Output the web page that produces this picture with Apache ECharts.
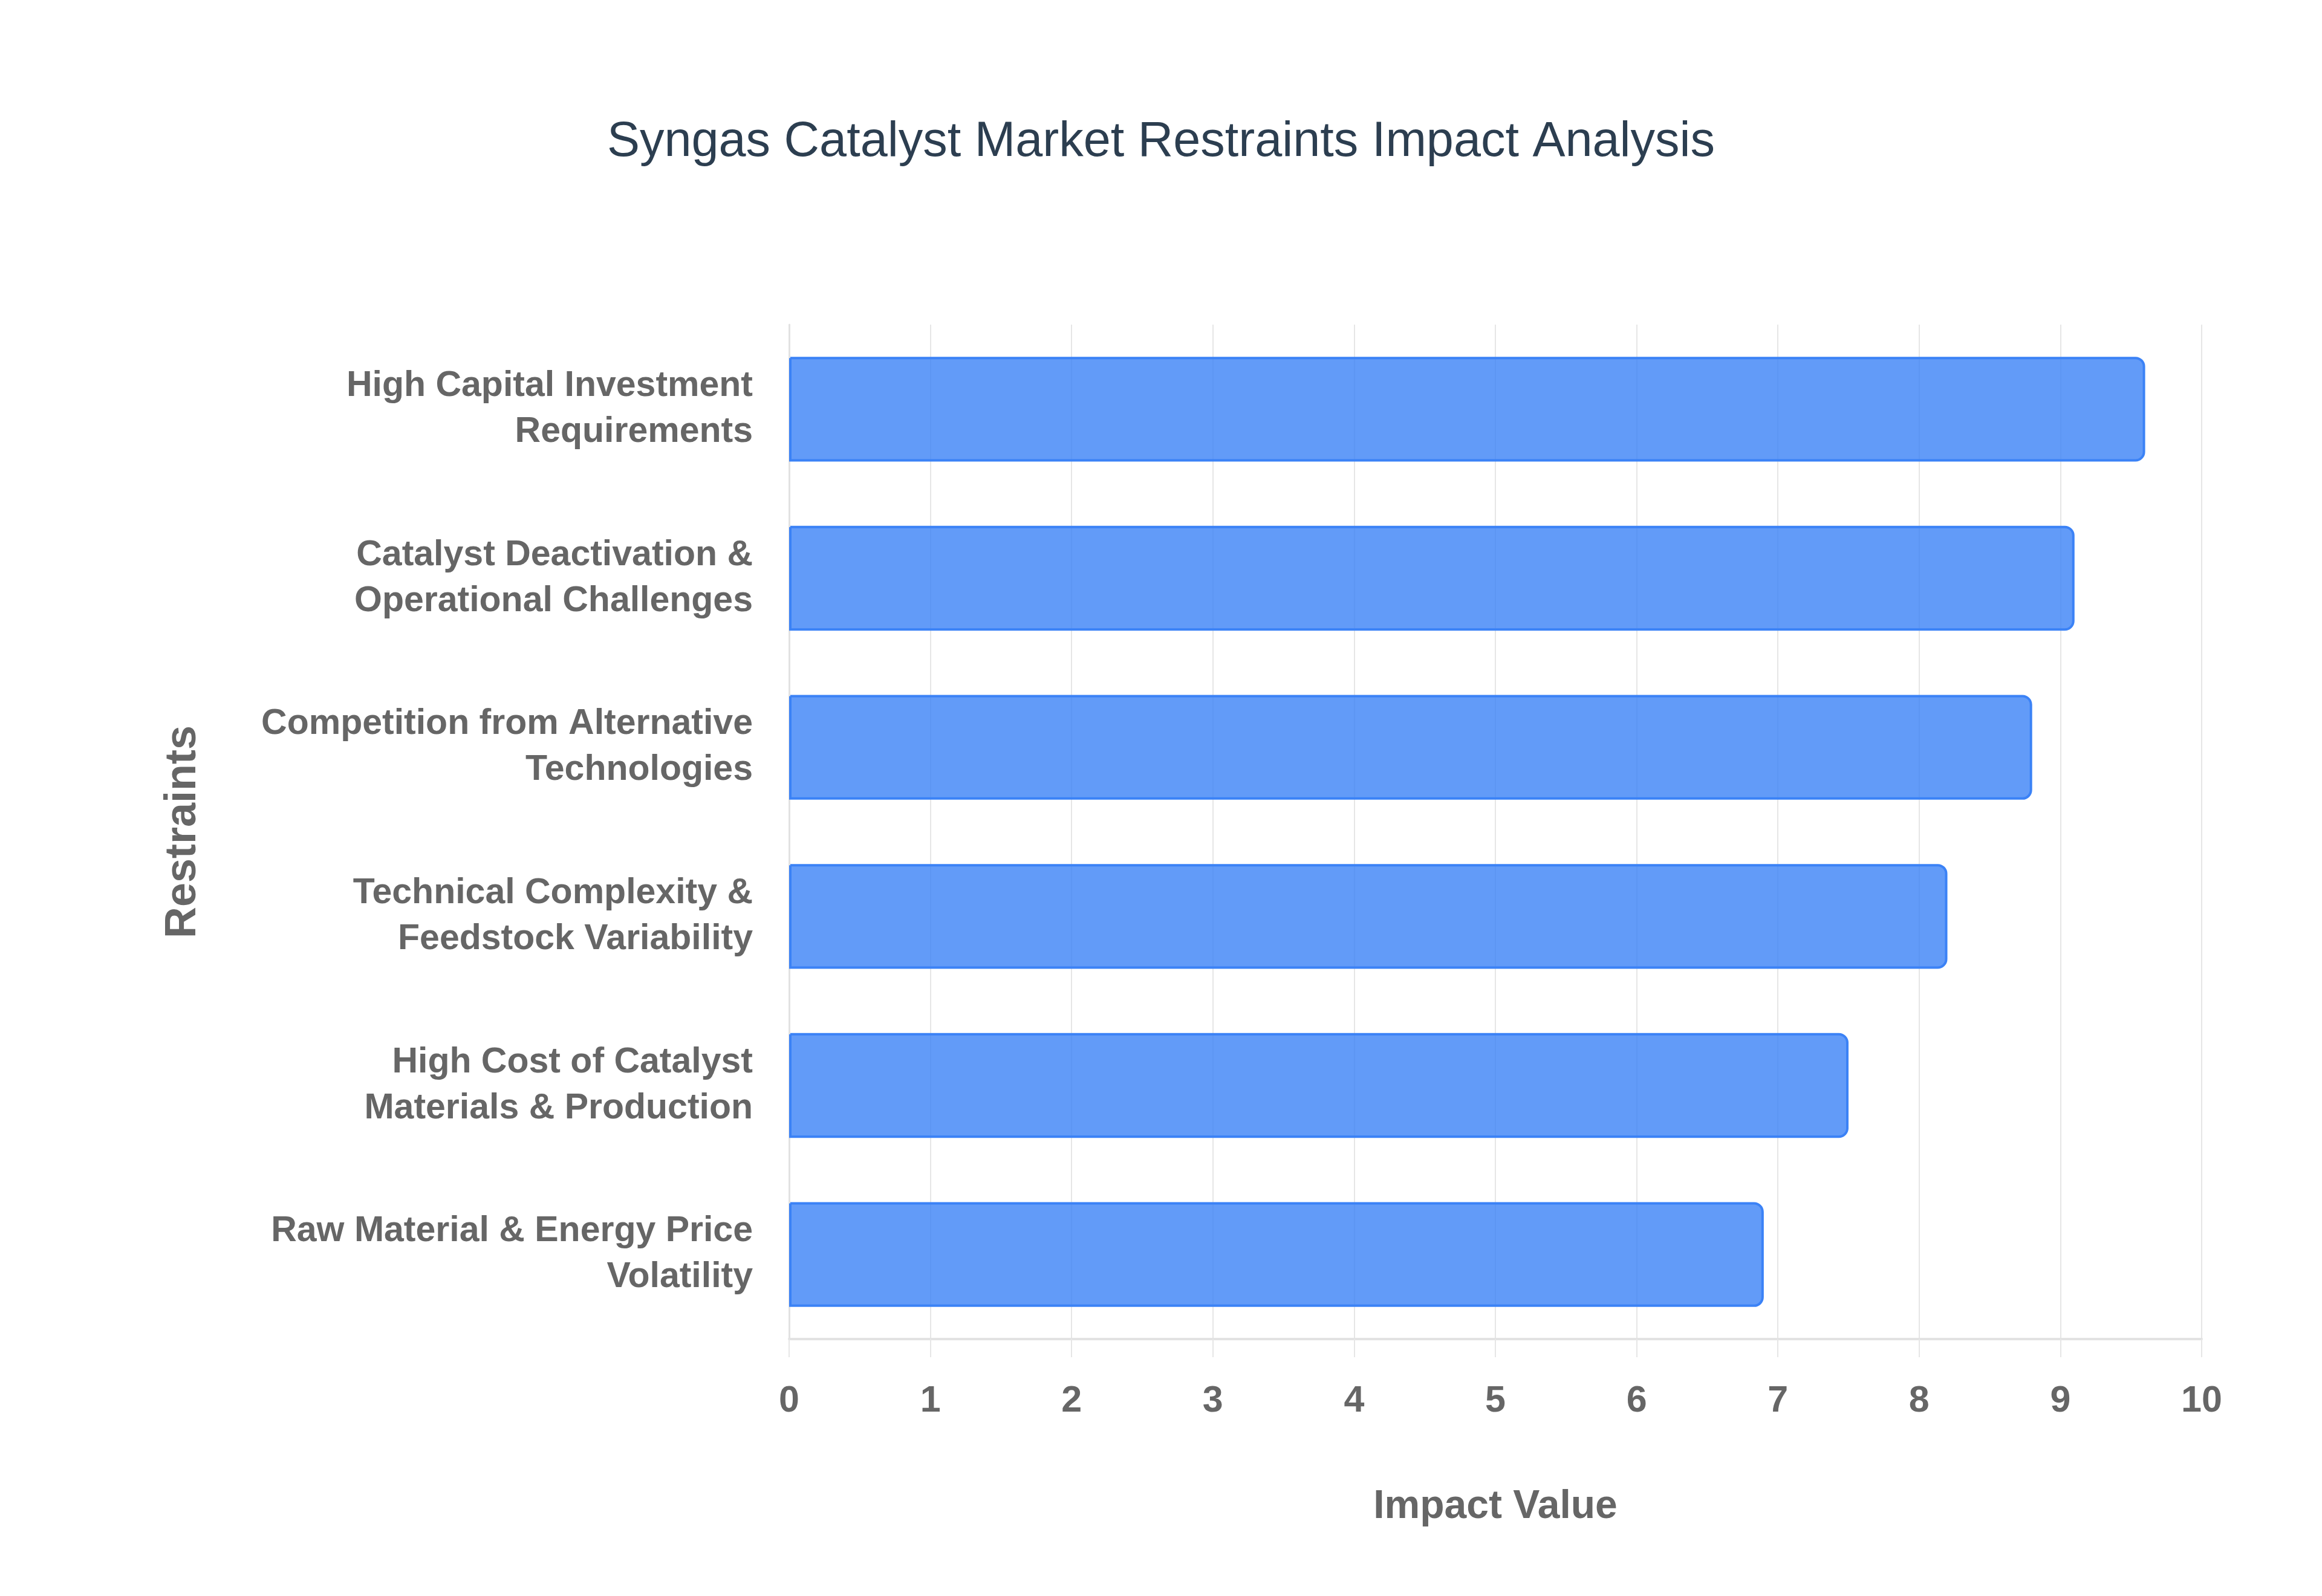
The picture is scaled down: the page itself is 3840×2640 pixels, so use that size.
<!DOCTYPE html>
<html>
<head>
<meta charset="utf-8">
<title>Syngas Catalyst Market Restraints Impact Analysis</title>
<script src="https://cdn.jsdelivr.net/npm/echarts@6/dist/echarts.min.js"></script>
<style>
    html, body { margin: 0; padding: 0; background: #ffffff; }
    #chart { width: 3840px; height: 2640px; }
</style>
</head>
<body>
<div id="chart"></div>
<script>
// restraints, top to bottom as they appear in the chart
const restraints = [
    'High Capital Investment\nRequirements',
    'Catalyst Deactivation &\nOperational Challenges',
    'Competition from Alternative\nTechnologies',
    'Technical Complexity &\nFeedstock Variability',
    'High Cost of Catalyst\nMaterials & Production',
    'Raw Material & Energy Price\nVolatility'
];
const impactValues = [9.6, 9.1, 8.8, 8.2, 7.5, 6.9];
const xTicks = [0, 1, 2, 3, 4, 5, 6, 7, 8, 9, 10];

const labelColor = '#666666';
const fontFamily = '"Liberation Sans", Arial, Helvetica, sans-serif';

const chart = echarts.init(document.getElementById('chart'));

const option = {
    backgroundColor: '#ffffff',
    animation: false,
    title: {
        text: 'Syngas Catalyst Market Restraints Impact Analysis',
        left: 'center',
        top: 190,
        textStyle: {
            color: '#2c3e50',
            fontFamily: fontFamily,
            fontWeight: 'normal',
            fontSize: 81
        }
    },
    grid: {
        left: 1305,
        right: 199,
        top: 537,
        bottom: 425,
        containLabel: false
    },
    xAxis: {
        type: 'value',
        min: xTicks[0],
        max: xTicks[xTicks.length - 1],
        interval: 1,
        name: 'Impact Value',
        nameLocation: 'middle',
        nameGap: 245,
        nameTextStyle: {
            color: labelColor,
            fontFamily: fontFamily,
            fontWeight: 'bold',
            fontSize: 66
        },
        axisLine: { show: true, lineStyle: { color: '#e2e2e2', width: 4 } },
        axisTick: { show: true, length: 30, lineStyle: { color: '#e6e6e6', width: 2 } },
        axisLabel: {
            color: labelColor,
            fontFamily: fontFamily,
            fontWeight: 'bold',
            fontSize: 61,
            margin: 73
        },
        splitLine: { show: true, lineStyle: { color: '#e6e6e6', width: 2 } }
    },
    yAxis: {
        type: 'category',
        data: restraints,
        inverse: true,
        name: 'Restraints',
        nameLocation: 'middle',
        nameGap: 966,
        nameRotate: 90,
        nameTextStyle: {
            color: labelColor,
            fontFamily: fontFamily,
            fontWeight: 'bold',
            fontSize: 72
        },
        axisLine: { show: true, lineStyle: { color: '#e2e2e2', width: 3 } },
        axisTick: { show: false },
        axisLabel: {
            color: labelColor,
            fontFamily: fontFamily,
            fontWeight: 'bold',
            fontSize: 59,
            lineHeight: 76,
            margin: 60,
            align: 'right'
        },
        splitLine: { show: false }
    },
    series: [{
        type: 'bar',
        data: impactValues,
        barWidth: '62%',
        itemStyle: {
            color: 'rgba(59, 130, 246, 0.8)',
            borderColor: '#3b82f6',
            borderWidth: 4,
            borderRadius: [0, 14, 14, 0]
        }
    }]
};

chart.setOption(option);
</script>
</body>
</html>
